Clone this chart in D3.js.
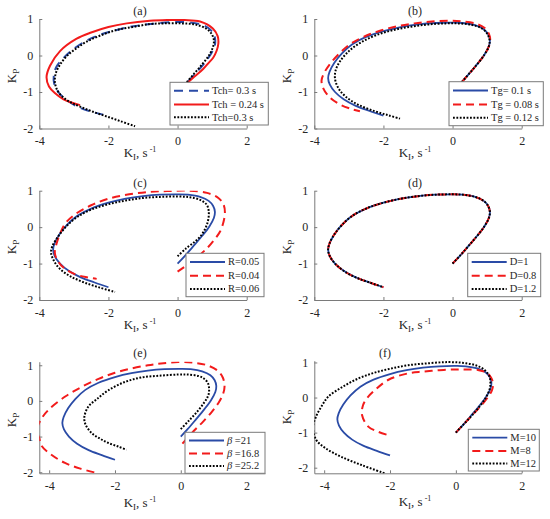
<!DOCTYPE html>
<html>
<head>
<meta charset="utf-8">
<script src="https://cdn.jsdelivr.net/npm/d3@7"></script>
<style>
body { margin: 0; background: #fff; }
svg text { font-family: "Liberation Serif", "Times New Roman", serif; fill: #262626; }
</style>
</head>
<body>
<div id="chart"></div>
<script>
// stability boundary points [K_I, K_P]
var nominal = [[0.00,-1.00],[0.20,-0.80],[0.45,-0.53],[0.72,-0.23],[0.92,0.02],[1.05,0.25],[1.08,0.42],[1.03,0.58],[0.90,0.72],[0.65,0.83],[0.30,0.89],[0.00,0.90],[-0.50,0.89],[-1.00,0.85],[-1.50,0.78],[-2.00,0.67],[-2.50,0.51],[-2.90,0.31],[-3.20,0.06],[-3.42,-0.20],[-3.56,-0.45],[-3.60,-0.62],[-3.55,-0.80],[-3.40,-1.00],[-3.15,-1.20],[-2.80,-1.38],[-2.40,-1.52],[-2.00,-1.65]];

var blueA = [[0.00,-1.00],[0.22,-0.79],[0.48,-0.53],[0.75,-0.24],[0.95,0.02],[1.07,0.25],[1.09,0.42],[1.04,0.60],[0.88,0.76],[0.55,0.88],[0.10,0.92],[-0.22,0.91],[-0.70,0.87],[-1.28,0.80],[-1.80,0.69],[-2.24,0.57],[-2.65,0.40],[-3.02,0.17],[-3.30,-0.07],[-3.50,-0.30],[-3.58,-0.55],[-3.57,-0.77],[-3.45,-1.00],[-3.30,-1.15],[-3.05,-1.32],[-2.80,-1.44],[-2.45,-1.55],[-2.15,-1.62]];
var redA = [[0.00,-1.00],[0.25,-0.78],[0.50,-0.57],[0.74,-0.37],[0.90,-0.20],[1.03,-0.06],[1.13,0.13],[1.18,0.33],[1.16,0.53],[1.02,0.74],[0.65,0.93],[0.20,0.97],[-0.30,0.97],[-0.80,0.95],[-1.47,0.88],[-2.00,0.78],[-2.50,0.63],[-2.92,0.46],[-3.40,0.12],[-3.69,-0.28],[-3.79,-0.59],[-3.72,-0.85],[-3.55,-1.03],[-3.30,-1.20],[-2.82,-1.36]];
var blackA = [[0.00,-1.00],[0.20,-0.80],[0.45,-0.53],[0.72,-0.23],[0.92,0.02],[1.03,0.25],[1.05,0.42],[0.98,0.60],[0.82,0.74],[0.50,0.85],[0.10,0.88],[-0.40,0.88],[-0.80,0.86],[-1.30,0.78],[-1.76,0.70],[-2.20,0.56],[-2.63,0.38],[-2.95,0.18],[-3.21,-0.02],[-3.40,-0.25],[-3.52,-0.48],[-3.55,-0.72],[-3.48,-0.95],[-3.33,-1.13],[-3.10,-1.28],[-2.82,-1.40],[-2.45,-1.54],[-2.05,-1.67],[-1.65,-1.80],[-1.23,-1.94]];

var redB = [[0.00,-1.00],[0.20,-0.80],[0.45,-0.53],[0.72,-0.23],[0.92,0.02],[1.05,0.25],[1.09,0.42],[1.05,0.60],[0.92,0.76],[0.65,0.88],[0.25,0.94],[-0.10,0.955],[-0.60,0.93],[-1.10,0.88],[-1.60,0.80],[-2.10,0.68],[-2.55,0.52],[-2.95,0.32],[-3.25,0.08],[-3.52,-0.20],[-3.70,-0.45],[-3.79,-0.68],[-3.74,-0.90],[-3.58,-1.12],[-3.30,-1.32],[-2.95,-1.46],[-2.68,-1.53]];
var blackB = [[0.00,-1.00],[0.20,-0.80],[0.45,-0.53],[0.72,-0.23],[0.92,0.02],[1.05,0.25],[1.07,0.42],[1.00,0.60],[0.85,0.74],[0.55,0.84],[0.15,0.88],[-0.20,0.88],[-0.70,0.85],[-1.20,0.79],[-1.70,0.70],[-2.20,0.56],[-2.65,0.36],[-3.00,0.12],[-3.25,-0.15],[-3.38,-0.40],[-3.40,-0.64],[-3.30,-0.90],[-3.10,-1.12],[-2.73,-1.35],[-2.24,-1.53],[-1.85,-1.64],[-1.52,-1.73]];

var redC = [[0.00,-1.22],[0.40,-0.95],[0.85,-0.58],[1.10,-0.30],[1.23,-0.12],[1.33,0.15],[1.37,0.40],[1.33,0.62],[1.18,0.80],[0.85,0.94],[0.30,1.00],[-0.30,0.99],[-0.80,0.97],[-1.40,0.90],[-2.00,0.78],[-2.50,0.60],[-2.95,0.36],[-3.25,0.10],[-3.40,-0.18],[-3.50,-0.45],[-3.55,-0.71],[-3.45,-0.95],[-3.25,-1.15],[-2.95,-1.30],[-2.60,-1.38],[-2.34,-1.42]];
var blackC = [[0.00,-0.80],[0.25,-0.58],[0.50,-0.40],[0.68,-0.23],[0.82,0.00],[0.89,0.22],[0.90,0.45],[0.84,0.62],[0.65,0.75],[0.35,0.82],[0.00,0.84],[-0.50,0.83],[-1.00,0.80],[-1.50,0.73],[-2.00,0.63],[-2.50,0.48],[-2.90,0.28],[-3.20,0.04],[-3.45,-0.25],[-3.62,-0.52],[-3.66,-0.70],[-3.58,-0.92],[-3.40,-1.15],[-3.10,-1.35],[-2.70,-1.52],[-2.25,-1.66],[-1.81,-1.78]];

var redE = [[0.05,-1.20],[0.43,-0.81],[0.68,-0.58],[0.95,-0.30],[1.15,-0.05],[1.28,0.18],[1.33,0.40],[1.28,0.65],[1.13,0.84],[0.80,1.00],[0.40,1.07],[-0.08,1.09],[-0.60,1.05],[-1.00,1.00],[-1.50,0.91],[-2.00,0.79],[-2.50,0.62],[-3.00,0.40],[-3.50,0.13],[-4.02,-0.25],[-4.25,-0.52],[-4.37,-0.81],[-4.30,-1.05],[-4.22,-1.27],[-3.95,-1.50],[-3.52,-1.74],[-3.05,-1.90],[-2.56,-2.02]];
var blackE = [[0.00,-0.79],[0.25,-0.55],[0.50,-0.30],[0.70,-0.06],[0.82,0.12],[0.86,0.26],[0.83,0.49],[0.70,0.63],[0.53,0.70],[0.20,0.74],[-0.08,0.74],[-0.60,0.71],[-1.19,0.66],[-1.70,0.53],[-2.20,0.30],[-2.55,0.05],[-2.81,-0.16],[-2.93,-0.45],[-2.90,-0.65],[-2.71,-0.90],[-2.45,-1.06],[-2.20,-1.18],[-1.90,-1.28],[-1.65,-1.37]];

var redF = [[0.00,-1.00],[0.22,-0.78],[0.48,-0.52],[0.75,-0.25],[0.98,0.02],[1.10,0.22],[1.13,0.38],[1.08,0.55],[0.95,0.70],[0.70,0.78],[0.30,0.80],[-0.03,0.80],[-0.50,0.78],[-1.00,0.74],[-1.45,0.69],[-2.06,0.50],[-2.46,0.21],[-2.70,-0.02],[-2.82,-0.22],[-2.85,-0.50],[-2.66,-0.83],[-2.35,-0.98],[-2.06,-1.07]];
var blackF = [[0.00,-1.00],[0.20,-0.80],[0.45,-0.55],[0.70,-0.28],[0.90,-0.02],[1.02,0.22],[1.05,0.42],[1.02,0.60],[0.88,0.78],[0.60,0.92],[0.20,0.99],[-0.23,1.01],[-0.80,0.98],[-1.45,0.92],[-2.00,0.82],[-2.50,0.70],[-2.97,0.54],[-3.45,0.30],[-3.88,0.02],[-4.08,-0.25],[-4.25,-0.55],[-4.34,-0.85],[-4.24,-1.21],[-3.95,-1.45],[-3.48,-1.69],[-2.85,-1.93],[-2.16,-2.16]];

var titles = ["(a)", "(b)", "(c)", "(d)", "(e)", "(f)"];
var legendA = ["Tch= 0.3 s", "Tch = 0.24 s", "Tch=0.3 s"];
var legendB = ["Tg= 0.1 s", "Tg = 0.08 s", "Tg = 0.12 s"];
var legendC = ["R=0.05", "R=0.04", "R=0.06"];
var legendD = ["D=1", "D=0.8", "D=1.2"];
var legendE = ["β =21", "β =16.8", "β =25.2"];
var legendF = ["M=10", "M=8", "M=12"];
var xTicks = [-4, -2, 0, 2];
var yTicks = [-2, -1, 0, 1];

var blue = "#2a4ba6", red = "#f21b1b", black = "#000";
var sBlueSolid = {color: blue, dash: null, width: 1.8};
var sBlueDash = {color: blue, dash: "9,6", width: 2};
var sRedSolid = {color: red, dash: null, width: 2};
var sRedDash = {color: red, dash: "8,5", width: 2};
var sBlackDot = {color: black, dash: "1.8,1.6", width: 2};

// layout of the six axes (pixels)
var panels = [
    {title: titles[0], series: [blueA, redA, blackA], legend: legendA, styles: [sBlueDash, sRedSolid, sBlackDot],
     xr: [39.3, 246.7], xd: [-4, 2], yr: [128.5, 19], yd: [-2, 1], tx: 140, ty: 15, box: [170, 82.3, 98.3, 42.7], yl: [11.7, 76], xl: [140, 157]},
    {title: titles[1], series: [nominal, redB, blackB], legend: legendB, styles: [sBlueSolid, sRedDash, sBlackDot],
     xr: [314.3, 521.7], xd: [-4, 2], yr: [128.5, 19], yd: [-2, 1], tx: 415, ty: 15, box: [449, 81.7, 94.3, 44], yl: [286.7, 76], xl: [415, 157]},
    {title: titles[2], series: [nominal, redC, blackC], legend: legendC, styles: [sBlueSolid, sRedDash, sBlackDot],
     xr: [39.3, 246.7], xd: [-4, 2], yr: [300, 190.7], yd: [-2, 1], tx: 140, ty: 187, box: [186, 253.3, 78, 43.4], yl: [11.7, 247], xl: [140, 329]},
    {title: titles[3], series: [nominal, nominal, nominal], legend: legendD, styles: [sBlueSolid, sRedDash, sBlackDot],
     xr: [314.3, 521.7], xd: [-4, 2], yr: [300, 190.7], yd: [-2, 1], tx: 415, ty: 187, box: [467.7, 253.3, 73, 43.4], yl: [286.7, 247], xl: [415, 329]},
    {title: titles[4], series: [nominal, redE, blackE], legend: legendE, styles: [sBlueSolid, sRedDash, sBlackDot],
     xr: [39.3, 265], xd: [-4.3, 2.56], yr: [473.3, 361.7], yd: [-2.03, 1.1], tx: 140, ty: 357, box: [185, 432.3, 80, 41], yl: [11.7, 420], xl: [140, 507]},
    {title: titles[5], series: [nominal, redF, blackF], legend: legendF, styles: [sBlueSolid, sRedDash, sBlackDot],
     xr: [314.3, 521.7], xd: [-4.3, 2], yr: [473.3, 360.7], yd: [-2.16, 1.05], tx: 385, ty: 357, box: [468.3, 429.3, 71, 41.7], yl: [286.7, 417], xl: [415, 506]}
];
var rowFrac = [0.2, 0.52, 0.82];

var w = 550, h = 519;
var svg = d3.select("#chart").append("svg")
    .attr("width", w)
    .attr("height", h);

var fmt = function(d) { return String(d); }; // plain hyphen minus, no decimals

panels.forEach(function(p, i) {
    var x = d3.scaleLinear().domain(p.xd).range(p.xr);
    var y = d3.scaleLinear().domain(p.yd).range(p.yr);
    var g = svg.append("g");

    // clip curves to the axes area
    svg.append("clipPath").attr("id", "clip" + i)
        .append("rect")
        .attr("x", p.xr[0]).attr("y", p.yr[1])
        .attr("width", p.xr[1] - p.xr[0]).attr("height", p.yr[0] - p.yr[1]);

    var xAxis = d3.axisBottom(x).tickValues(xTicks).tickFormat(fmt).tickSizeInner(-3).tickSizeOuter(0).tickPadding(8);
    var yAxis = d3.axisLeft(y).tickValues(yTicks).tickFormat(fmt).tickSizeInner(-3).tickSizeOuter(0).tickPadding(6);

    var gx = g.append("g").attr("transform", "translate(0," + p.yr[0] + ")").call(xAxis);
    var gy = g.append("g").attr("transform", "translate(" + p.xr[0] + ",0)").call(yAxis);
    [gx, gy].forEach(function(a) {
        a.select(".domain").attr("stroke", "#7a7a7a");
        a.selectAll(".tick line").attr("stroke", "#7a7a7a");
        a.selectAll(".tick text")
            .style("font-family", "'Liberation Serif', serif")
            .style("font-size", "12px")
            .attr("fill", "#262626");
    });

    var line = d3.line()
        .x(function(d) { return x(d[0]); })
        .y(function(d) { return y(d[1]); })
        .curve(d3.curveCatmullRom.alpha(0.5));

    var curves = g.append("g").attr("clip-path", "url(#clip" + i + ")");
    p.series.forEach(function(s, k) {
        var st = p.styles[k];
        curves.append("path")
            .datum(s)
            .attr("d", line)
            .attr("fill", "none")
            .attr("stroke", st.color)
            .attr("stroke-width", st.width)
            .attr("stroke-dasharray", st.dash);
    });

    // title
    g.append("text")
        .attr("x", p.tx).attr("y", p.ty)
        .attr("text-anchor", "middle")
        .style("font-size", "12px")
        .text(p.title);

    // y label K_P
    var ylab = g.append("text")
        .attr("transform", "translate(" + (p.yl[0] + 4) + "," + p.yl[1] + ") rotate(-90)")
        .attr("text-anchor", "middle")
        .style("font-size", "13px");
    ylab.append("tspan").text("K");
    ylab.append("tspan").attr("dy", 3).style("font-size", "9px").text("P");

    // x label K_I, s^-1
    var xlab = g.append("text")
        .attr("x", p.xl[0]).attr("y", p.xl[1])
        .attr("text-anchor", "middle")
        .style("font-size", "13px");
    xlab.append("tspan").text("K");
    xlab.append("tspan").attr("dy", 3).style("font-size", "9px").text("I");
    xlab.append("tspan").attr("dy", -3).text(", s");
    xlab.append("tspan").attr("dy", -5).style("font-size", "8px").text(" -1");

    // legend
    var b = p.box;
    var lg = g.append("g");
    lg.append("rect")
        .attr("x", b[0]).attr("y", b[1])
        .attr("width", b[2]).attr("height", b[3])
        .attr("fill", "#fff")
        .attr("stroke", "#7a7a7a")
        .attr("stroke-width", 1);
    p.legend.forEach(function(label, k) {
        var st = p.styles[k];
        var ry = b[1] + b[3] * rowFrac[k];
        lg.append("line")
            .attr("x1", b[0] + 4).attr("x2", b[0] + 39)
            .attr("y1", ry).attr("y2", ry)
            .attr("stroke", st.color)
            .attr("stroke-width", st.width)
            .attr("stroke-dasharray", st.dash);
        var t = lg.append("text")
            .attr("x", b[0] + 42).attr("y", ry + 3.5)
            .style("font-size", "10.5px");
        if (label.charAt(0) === "β") {
            t.append("tspan").style("font-style", "italic").text("β");
            t.append("tspan").text(label.slice(1));
        } else {
            t.text(label);
        }
    });
});
</script>
</body>
</html>
